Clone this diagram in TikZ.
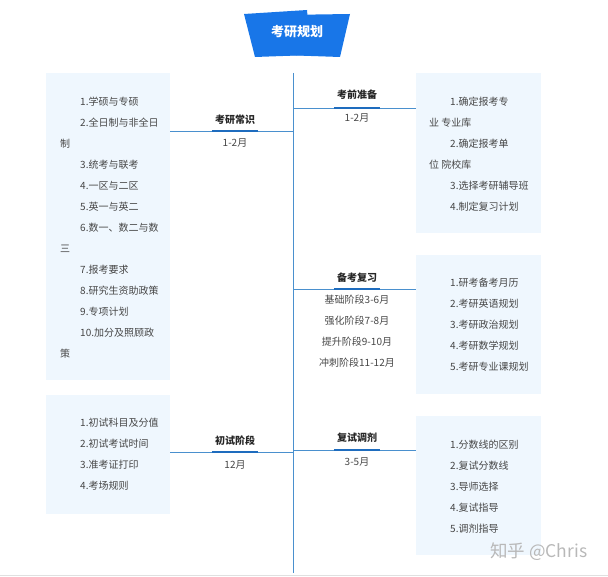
\documentclass[tikz,border=0pt]{standalone}
\usepackage{fontspec}
\setmainfont{Noto Sans CJK SC}
\usepackage{tikz}
\usetikzlibrary{positioning,calc}
\definecolor{spineblue}{RGB}{74,144,206}
\definecolor{titleblue}{RGB}{24,118,232}
\definecolor{boxfill}{RGB}{239,247,254}
\definecolor{textgray}{RGB}{70,70,70}
\definecolor{barblue}{RGB}{30,108,190}

\begin{document}
\begin{tikzpicture}[x=1pt, y=-1pt,
    card/.style={fill=boxfill, draw=none, inner sep=0pt, anchor=north west},
    item/.style={anchor=west, inner sep=0pt, text=textgray, font=\fontsize{10}{12}\selectfont},
    topic/.style={inner sep=0pt, text=black!85, font=\fontsize{10}{12}\selectfont\bfseries},
    period/.style={inner sep=0pt, text=textgray, font=\fontsize{10}{12}\selectfont},
    branch/.style={spineblue, line width=0.9pt},
    underbar/.style={barblue, line width=1.6pt},
]
    \useasboundingbox (0,0) rectangle (608,577);
    % Title banner
    \fill[titleblue] (244,14) -- (307,10) -- (311,55) -- (255,57) -- cycle;
    \fill[titleblue] (282,15) -- (350,14) -- (340,57) -- (282,55) -- cycle;
    \node[text=white, font=\fontsize{13}{15}\selectfont\bfseries] (title) at (297,32) {考研规划};
    % Cards
    \node[card, minimum width=124pt, minimum height=307pt] (c1) at (46,73) {};
    \node[card, minimum width=124pt, minimum height=119pt] (c2) at (46,395) {};
    \node[card, minimum width=125pt, minimum height=160pt] (c3) at (416,73) {};
    \node[card, minimum width=125pt, minimum height=139pt] (c4) at (416,255) {};
    \node[card, minimum width=125pt, minimum height=139pt] (c5) at (416,416) {};
    % Spine and joints
    \coordinate (top) at (293,73);
    \coordinate (bot) at (293,573);
    \draw[branch] (top) -- (bot);
    \coordinate (j1) at (293,131);
    \coordinate (j2) at (293,452);
    \coordinate (j3) at (293,108);
    \coordinate (j4) at (293,289);
    \coordinate (j5) at (293,450);
    \draw[branch] (c1.east |- j1) -- (j1);
    \draw[branch] (c2.east |- j2) -- (j2);
    \draw[branch] (j3) -- (c3.west |- j3);
    \draw[branch] (j4) -- (c4.west |- j4);
    \draw[branch] (j5) -- (c5.west |- j5);
    % Topics
    \node[topic] (t1) at (235,120) {考研常识};
    \node[topic] (t2) at (235,441) {初试阶段};
    \node[topic] (t3) at (357,95) {考前准备};
    \node[topic] (t4) at (357,278) {备考复习};
    \node[topic] (t5) at (357,438) {复试调剂};
    \foreach \k/\j in {1/1,2/2,3/3,4/4,5/5} {
        \draw[underbar] ([xshift=-3pt]t\k.west |- j\j) -- ([xshift=3pt]t\k.east |- j\j);
    }
    % Periods
    \node[period] (p1) at (235,143) {1-2月};
    \node[period] (p2) at (235,465) {12月};
    \node[period] (p3) at (357,118) {1-2月};
    \foreach \t [count=\i] in {基础阶段3-6月, 强化阶段7-8月, 提升阶段9-10月, 冲刺阶段11-12月} {
        \node[period] (p4\i) at (357,279+21*\i) {\t};
    }
    \node[period] (p5) at (357,462) {3-5月};
    % Card items
    \foreach \x/\t [count=\i] in {80/1.学硕与专硕, 80/2.全日制与非全日, 60/制, 80/3.统考与联考,
        80/4.一区与二区, 80/5.英一与英二, 80/6.数一、数二与数, 60/三, 80/7.报考要求,
        80/8.研究生资助政策, 80/9.专项计划, 80/10.加分及照顾政, 60/策} {
        \node[item] (a\i) at (\x,81+21*\i) {\t};
    }
    \foreach \t [count=\i] in {1.初试科目及分值, 2.初试考试时间, 3.准考证打印, 4.考场规则} {
        \node[item] (b\i) at (80,402+21*\i) {\t};
    }
    \foreach \x/\t [count=\i] in {450/1.确定报考专, 429/业 专业库, 450/2.确定报考单,
        429/位 院校库, 450/3.选择考研辅导班, 450/4.制定复习计划} {
        \node[item] (c3\i) at (\x,81+21*\i) {\t};
    }
    \foreach \t [count=\i] in {1.研考备考月历, 2.考研英语规划, 3.考研政治规划, 4.考研数学规划, 5.考研专业课规划} {
        \node[item] (c4\i) at (450,262+21*\i) {\t};
    }
    \foreach \t [count=\i] in {1.分数线的区别, 2.复试分数线, 3.导师选择, 4.复试指导, 5.调剂指导} {
        \node[item] (c5\i) at (450,424+21*\i) {\t};
    }
    % Watermark
    \node[anchor=west, inner sep=0pt, text=black!28, font=\fontsize{17.5}{20}\selectfont] (wm) at (490,552) {知乎 @Chris};
    \draw[black!12] (0,575) -- (608,575);
\end{tikzpicture}
\end{document}
